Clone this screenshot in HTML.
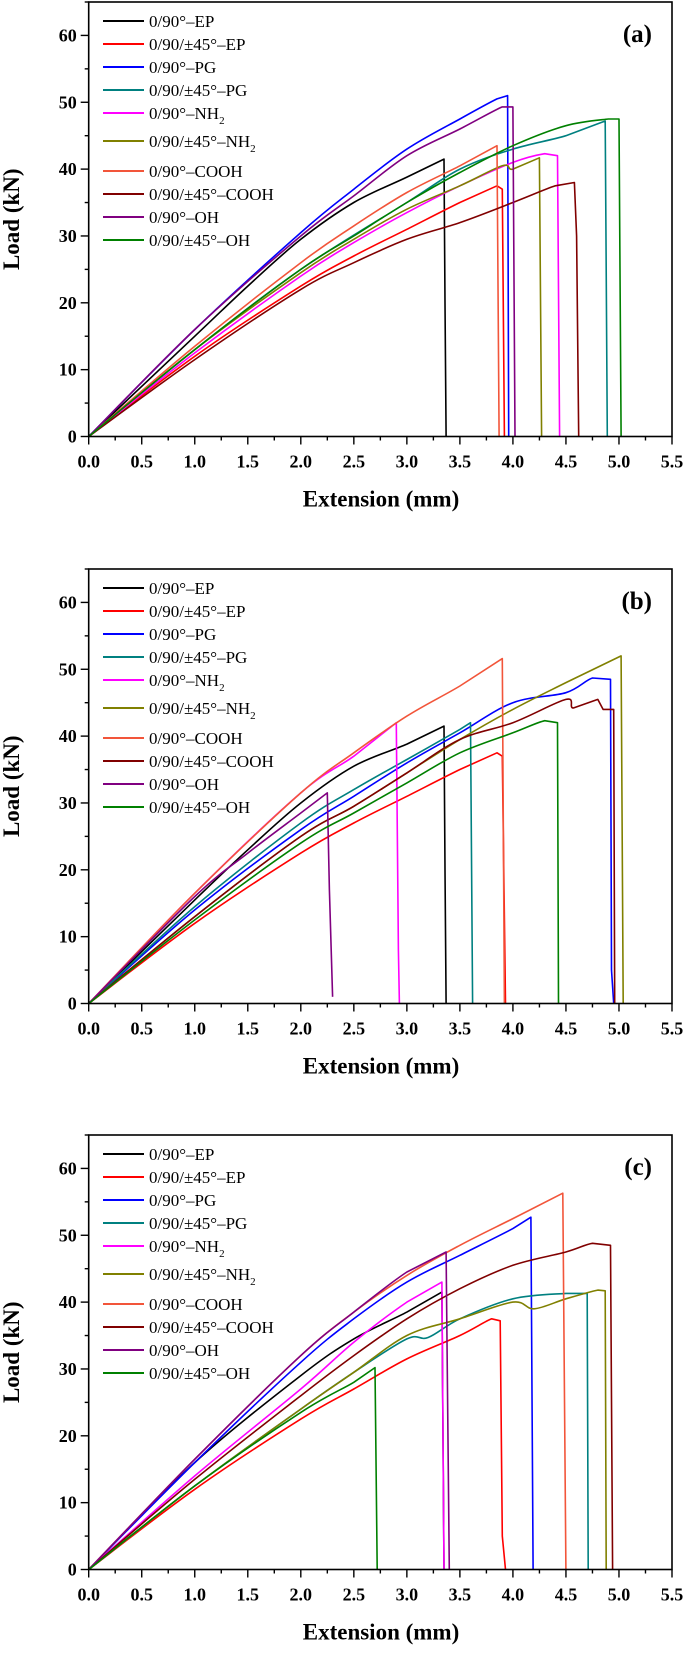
<!DOCTYPE html>
<html><head><meta charset="utf-8">
<style>
html,body{margin:0;padding:0;background:#fff;}
svg{display:block;font-family:"Liberation Serif","DejaVu Serif",serif;}
</style></head>
<body>
<svg id="fig" width="685" height="1654" viewBox="0 0 685 1654" xmlns="http://www.w3.org/2000/svg"></svg>
<script>
const seriesNames = ["0/90°–EP","0/90/±45°–EP","0/90°–PG","0/90/±45°–PG","0/90°–NH2","0/90/±45°–NH2","0/90°–COOH","0/90/±45°–COOH","0/90°–OH","0/90/±45°–OH"];
const seriesColors = ["#000000","#ff0000","#0000ff","#008080","#ff00ff","#808000","#f2553a","#800000","#800080","#008000"];
const xTicks = ["0.0","0.5","1.0","1.5","2.0","2.5","3.0","3.5","4.0","4.5","5.0","5.5"];
const yTicks = ["0","10","20","30","40","50","60"];
const panelLabels = ["(a)","(b)","(c)"];

// Panel (a) series: [extension mm], [load kN]
const aX = [
 [0,1,1.5,2,2.5,3,3.35,3.36,3.37],
 [0,1,2,2.5,3,3.5,3.85,3.9,3.92],
 [0,1,2,2.5,3,3.5,3.85,3.95,3.96],
 [0,1,2,3,3.5,4,4.5,4.87,4.88,4.89],
 [0,1,2,2.5,3,3.5,4,4.3,4.42,4.44],
 [0,1,2,2.5,3,3.5,3.9,4.0,4.25,4.27],
 [0,1,2,2.5,3,3.5,3.85,3.87],
 [0,1,2,2.5,3,3.5,4,4.4,4.58,4.6,4.62],
 [0,1,2,2.5,3,3.5,3.9,4.0,4.02],
 [0,1,2,2.5,3,3.5,4,4.5,4.9,5.0,5.02]];
const aY = [
 [0,15,22.5,29.5,35,38.8,41.5,20,0],
 [0,12,22.5,27,31,35,37.5,37,0],
 [0,16,30.5,37,43,47.5,50.5,51,0],
 [0,13,25,35,40,43,45,47.2,25,0],
 [0,12.5,24,29,33.5,37.5,41,42.3,42,0],
 [0,13,24.5,29.5,34,37.5,40.5,40,41.7,0],
 [0,13.5,26,31.5,36.5,40.5,43.5,0],
 [0,11.5,22,26,29.5,32,35,37.5,38,30,0],
 [0,16,30,36,42,46,49.3,49.3,0],
 [0,13,25,30,35,39.5,43.5,46.5,47.5,47.5,0]];

// Panel (b)
const bX = [
 [0,1,1.5,2,2.5,3,3.35,3.36,3.37],
 [0,1,2,2.5,3,3.5,3.85,3.9,3.93],
 [0,1,2,2.5,3,3.5,4,4.5,4.75,4.92,4.93,4.95],
 [0,1,2,2.5,3,3.5,3.6,3.61,3.62],
 [0,1,2,2.5,2.9,2.92,2.93],
 [0,1,2,2.5,3,3.5,4,4.5,5.02,5.04],
 [0,1,2,2.5,3,3.5,3.9,3.92],
 [0,1,2,2.5,3,3.5,4,4.5,4.57,4.8,4.85,4.95,4.96],
 [0,1,1.5,2,2.25,2.27,2.3],
 [0,1,2,2.5,3,3.5,4,4.3,4.42,4.43]];
const bY = [
 [0,15.5,23,30,35.5,38.8,41.5,20,0],
 [0,12,22.5,27,31,35,37.5,37,0],
 [0,14,26,31,36,40.5,45,46.5,48.7,48.5,5,0],
 [0,14.5,27,32,36.5,41,42,20,0],
 [0,16.5,31.5,37,42,8,0],
 [0,13,25,29.5,34.5,39.5,44,48,52,0],
 [0,16.5,31.5,37.5,43,47.5,51.6,0],
 [0,13,25,29.5,34.5,39.5,42,45.5,44.2,45.5,44,44,0],
 [0,16,22.5,28.5,31.5,17,1],
 [0,12.5,24,28.5,33,37.5,40.5,42.3,42,0]];

// Panel (c)
const cX = [
 [0,1,2,2.5,3,3.33,3.35],
 [0,1,2,2.5,3,3.5,3.8,3.88,3.9,3.93],
 [0,1,2,2.5,3,3.5,4,4.17,4.19],
 [0,1,2,2.5,3,3.2,3.5,4,4.5,4.7,4.71],
 [0,1,2,2.5,3,3.33,3.35],
 [0,1,2,2.5,3,3.5,4,4.2,4.5,4.8,4.87,4.88],
 [0,1,2,2.5,3,3.5,4,4.47,4.5],
 [0,1,2,2.5,3,3.5,4,4.5,4.75,4.92,4.94],
 [0,1,2,2.5,3,3.37,3.4],
 [0,1,2,2.5,2.7,2.72]];
const cY = [
 [0,16,29,34.5,38.5,41.5,0],
 [0,12,22.5,27,31.5,35,37.5,37.2,5,0],
 [0,16,31,37.5,43,47,51,52.7,0],
 [0,12.5,24,29.5,34.5,34.7,37.5,40.5,41.3,41.3,0],
 [0,14,27,34,40,43,0],
 [0,12.5,24,29.5,35,37.5,40,39,40.5,41.8,41.7,0],
 [0,16.5,32,38.5,44,48.5,52.5,56.3,0],
 [0,13.5,26,32,37.5,42,45.5,47.5,48.8,48.5,0],
 [0,16.5,32,38.5,44.5,47.5,0],
 [0,12.5,23.5,28,30.2,0]];

const panelsX = [aX,bX,cX];
const panelsY = [aY,bY,cY];
const panelTops = [2, 569, 1135];
const legendOffsets = [19,42,65,88,111,139,169,192,215,238];

const NS = "http://www.w3.org/2000/svg";
const svg = document.getElementById("fig");
function mk(tag, attrs, parent){
  const e = document.createElementNS(NS, tag);
  for (const k in attrs) e.setAttribute(k, attrs[k]);
  (parent||svg).appendChild(e);
  return e;
}
// smooth path through data points; straight segments near drops
function smoothPath(xd, yd, sx, sy){
  const P = xd.map((v,i)=>[sx(v), sy(yd[i])]);
  let d = "M" + P[0][0].toFixed(1) + "," + P[0][1].toFixed(1);
  const n = P.length;
  const steep = i => (i < 0 || i >= n-1) ? false : (xd[i+1]-xd[i] < 0.06);
  for (let i = 0; i < n-1; i++){
    const p1 = P[i], p2 = P[i+1];
    if (steep(i) || steep(i-1) || steep(i+1)){
      d += " L" + p2[0].toFixed(1) + "," + p2[1].toFixed(1);
      continue;
    }
    const p0 = P[i-1] || p1, p3 = P[i+2] || p2;
    const c1 = [p1[0]+(p2[0]-p0[0])/6, p1[1]+(p2[1]-p0[1])/6];
    const c2 = [p2[0]-(p3[0]-p1[0])/6, p2[1]-(p3[1]-p1[1])/6];
    d += " C" + c1.map(v=>v.toFixed(1)).join(",") + " " + c2.map(v=>v.toFixed(1)).join(",") + " " + p2[0].toFixed(1) + "," + p2[1].toFixed(1);
  }
  return d;
}
const X0 = 88.7, XW = 583.3, XMAX = 5.5, YMAX = 65, YH = 434.5;

for (let p = 0; p < 3; p++){
  const top = panelTops[p];
  const bottom = top + YH;
  const sx = v => X0 + v / XMAX * XW;
  const sy = v => bottom - v / YMAX * YH;
  const g = mk("g", {});
  
  

  const sg = mk("g", {fill:"none","stroke-width":"1.6","stroke-linejoin":"round"}, g);
  
  
  const xs = panelsX[p], ys = panelsY[p];
  for (let s = 0; s < xs.length; s++){
    const pl = mk("path", {d:smoothPath(xs[s], ys[s], sx, sy), stroke:seriesColors[s]}, sg);
    
    
  }

  const fr = mk("rect", {x:X0, y:top, width:XW, height:YH, fill:"none", stroke:"#000", "stroke-width":"1.6"}, g);
  
  

  for (let i = 0; i <= 22; i++){
    const v = i*0.25, x = sx(v), major = i%2===0;
    mk("line",{x1:x,x2:x,y1:bottom,y2:bottom+(major?8:4),stroke:"#000","stroke-width":"1.4"},g);
  }
  xTicks.forEach((t,i)=>{
    const tx = mk("text",{x:sx(i*0.5), y:bottom+31, "text-anchor":"middle","font-size":"18","font-weight":"bold"},g);
    tx.textContent = t;
    
    
  });
  for (let i = 0; i <= 13; i++){
    const v = i*5, y = sy(v), major = i%2===0;
    mk("line",{x1:X0,x2:X0-(major?8:4),y1:y,y2:y,stroke:"#000","stroke-width":"1.4"},g);
  }
  yTicks.forEach((t,i)=>{
    const ty = mk("text",{x:X0-12, y:sy(i*10)+6, "text-anchor":"end","font-size":"18","font-weight":"bold"},g);
    ty.textContent = t;
    
    
  });
  const xt = mk("text",{x:381, y:bottom+70, "text-anchor":"middle","font-size":"23","font-weight":"bold"},g);
  xt.textContent = "Extension (mm)";
  
  
  const yt = mk("text",{x:0, y:0, "text-anchor":"middle","font-size":"23","font-weight":"bold", transform:`translate(19,${top+YH/2}) rotate(-90)`},g);
  yt.textContent = "Load (kN)";
  
  
  const pl = mk("text",{x:652, y:top+40, "text-anchor":"end","font-size":"25","font-weight":"bold"},g);
  pl.textContent = panelLabels[p];
  
  

  const lg = mk("g",{},g);
  
  
  seriesNames.forEach((n,s)=>{
    const y = top + legendOffsets[s];
    const le = mk("g",{},lg);
    
    
    mk("line",{x1:103,x2:144,y1:y,y2:y,stroke:seriesColors[s],"stroke-width":"2"},le);
    const t = mk("text",{x:149, y:y+6, "font-size":"17"},le);
    if (n.endsWith("NH2")){
      t.textContent = n.slice(0,-1);
      const sub = mk("tspan",{dy:"5","font-size":"11"},t);
      sub.textContent = "2";
    } else t.textContent = n;
  });
}
</script>
</body></html>
